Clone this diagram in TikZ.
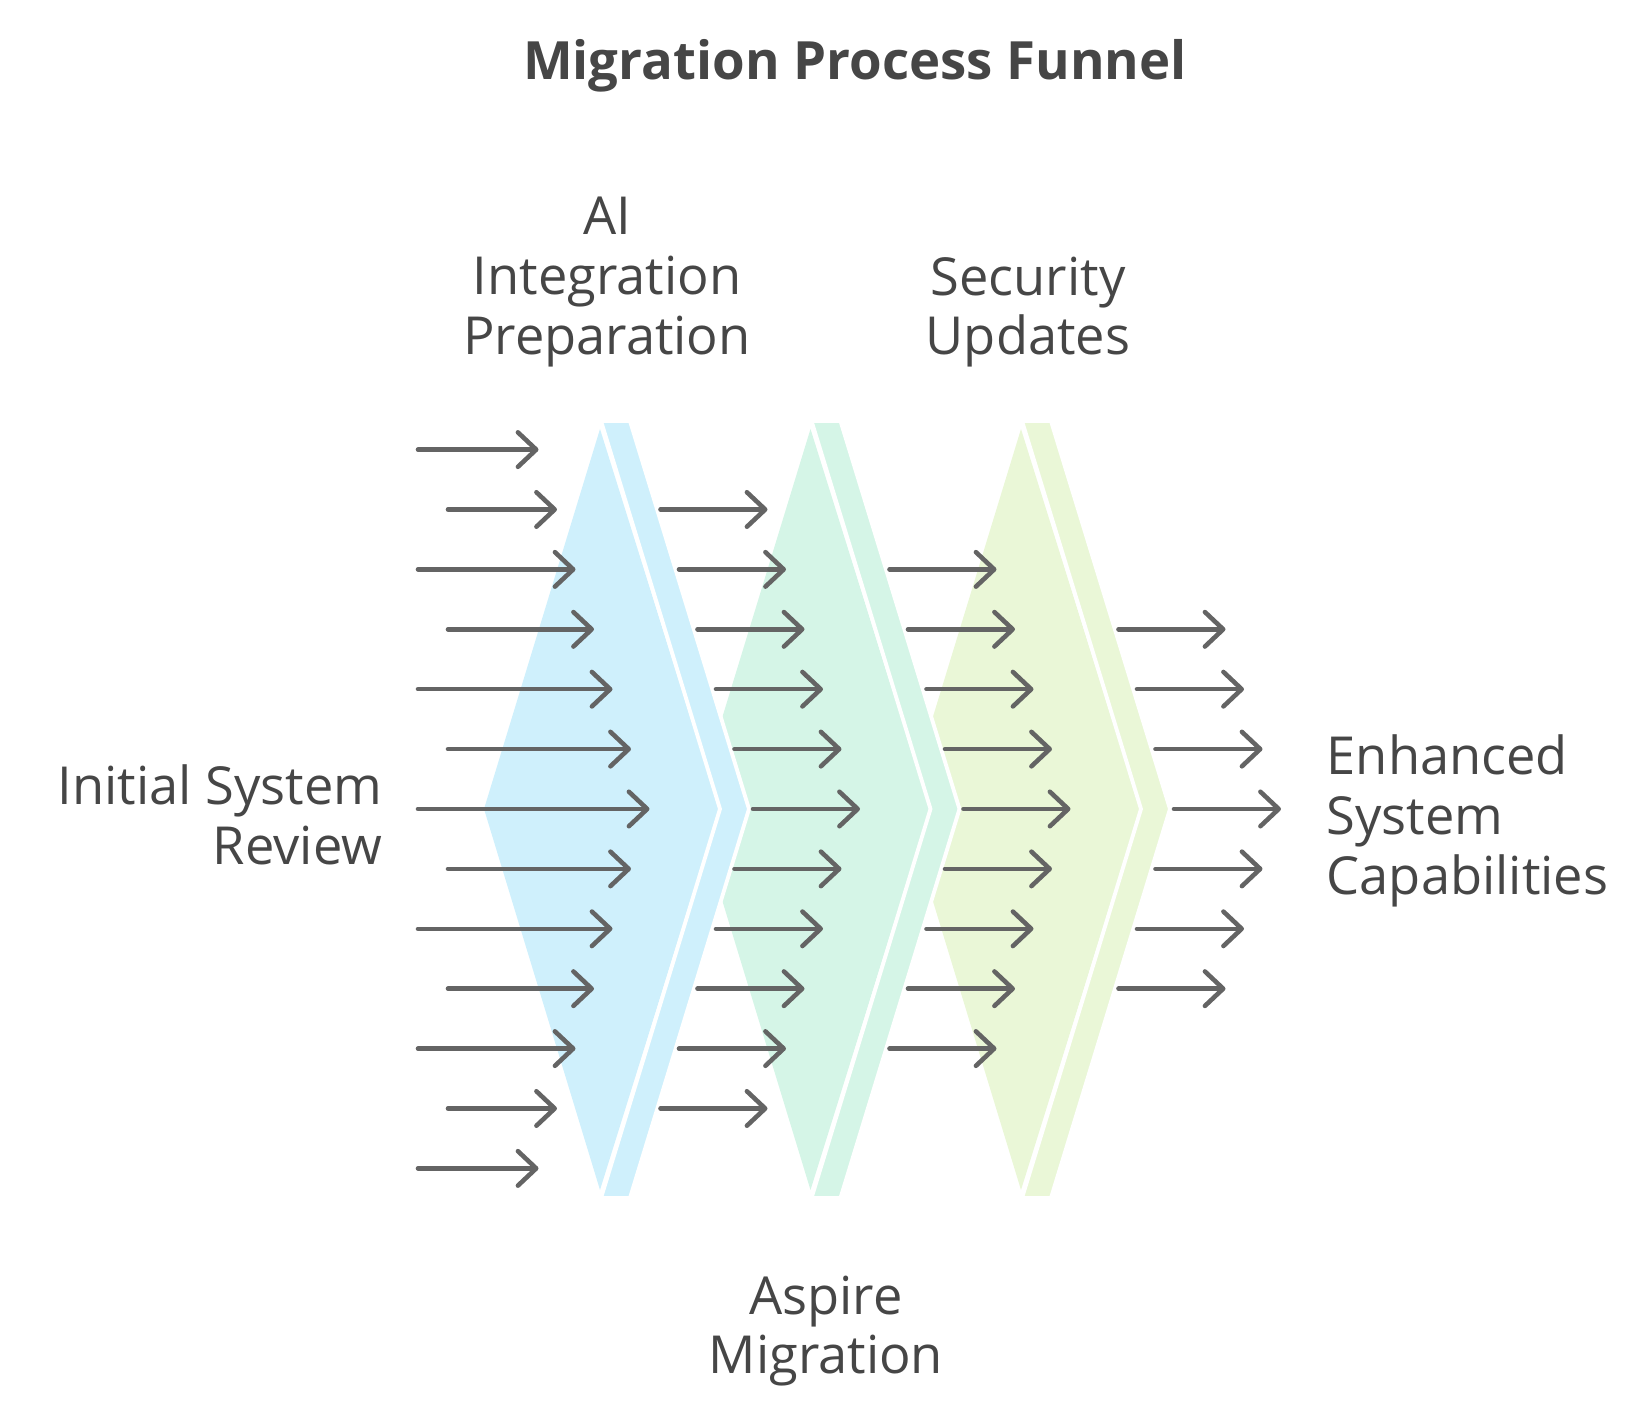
\documentclass[tikz,border=0pt]{standalone}
\usepackage{fontspec}
\setmainfont{Open Sans}
\usetikzlibrary{arrows.meta}
\definecolor{stageblue}{RGB}{207,240,252}
\definecolor{stagegreen}{RGB}{213,245,231}
\definecolor{stagelime}{RGB}{234,247,215}
\definecolor{arrowgray}{RGB}{100,100,100}
\definecolor{textgray}{RGB}{70,70,70}
\tikzset{
  flow/.style={
    draw=arrowgray,
    line width=1.3pt,
    line cap=round,
    line join=round,
    -{Straight Barb[length=5.2pt,width=9.8pt,round]}
  },
  stagestrip/.style={
    draw=white,
    line width=1.1pt,
    line join=round
  },
  stagetext/.style={
    text=textgray,
    align=center,
    inner sep=0pt,
    font=\fontsize{14.9}{17}\selectfont
  },
  titletext/.style={
    text=textgray,
    inner sep=0pt,
    font=\bfseries\fontsize{15}{17}\selectfont
  }
}

\begin{document}
\begin{tikzpicture}[x=0.01cm,y=-0.01cm]
    \useasboundingbox (0,0) rectangle (1650,1410);
    % stage bodies
    \foreach \i/\col/\cut in {0/stageblue/0,1/stagegreen/27.5,2/stagelime/27.5}{
        \pgfmathsetmacro\o{210.5*\i}
        \fill[\col] (600+\o,429) -- (719+\o,809) -- (600+\o,1190)
            -- (484+\cut+\o,809+3.3*\cut) -- (484+\cut+\o,809-3.3*\cut) -- cycle;
    }
    % back strips
    \foreach \i/\col in {0/stageblue,1/stagegreen,2/stagelime}{
        \pgfmathsetmacro\o{210.5*\i}
        \filldraw[stagestrip,fill=\col] (601+\o,421) -- (630+\o,421) -- (749+\o,809)
            -- (630+\o,1198) -- (601+\o,1198) -- (720+\o,809) -- cycle;
    }
    % arrows
    \foreach \g in {0,...,3}{
        \pgfmathtruncatemacro\n{6-\g}
        \foreach \r in {-\n,...,\n}{
            \pgfmathsetmacro\k{abs(\r)}
            \pgfmathsetmacro\yy{809+59.9*\r}
            \pgfmathsetmacro\xe{649.5+210.5*\g-18.5*\k}
            \pgfmathsetmacro\xs{\g==0 ? 418+30*mod(\k,2) : \xe-107}
            \draw[flow] (\xs,\yy) -- (\xe,\yy);
        }
    }
    \node[titletext] (title) at (855,66) {Migration Process Funnel};
    \node[stagetext] (aiprep) at (607,282) {AI\\Integration\\Preparation};
    \node[stagetext] (secupd) at (1028,312) {Security\\Updates};
    \node[stagetext] (aspmig) at (826,1331) {Aspire\\Migration};
    \node[stagetext,align=right,anchor=east] (initrev) at (383,815) {Initial System\\Review};
    \node[stagetext,align=left,anchor=west] (enhcap) at (1326,821) {Enhanced\\System\\Capabilities};
\end{tikzpicture}
\end{document}
